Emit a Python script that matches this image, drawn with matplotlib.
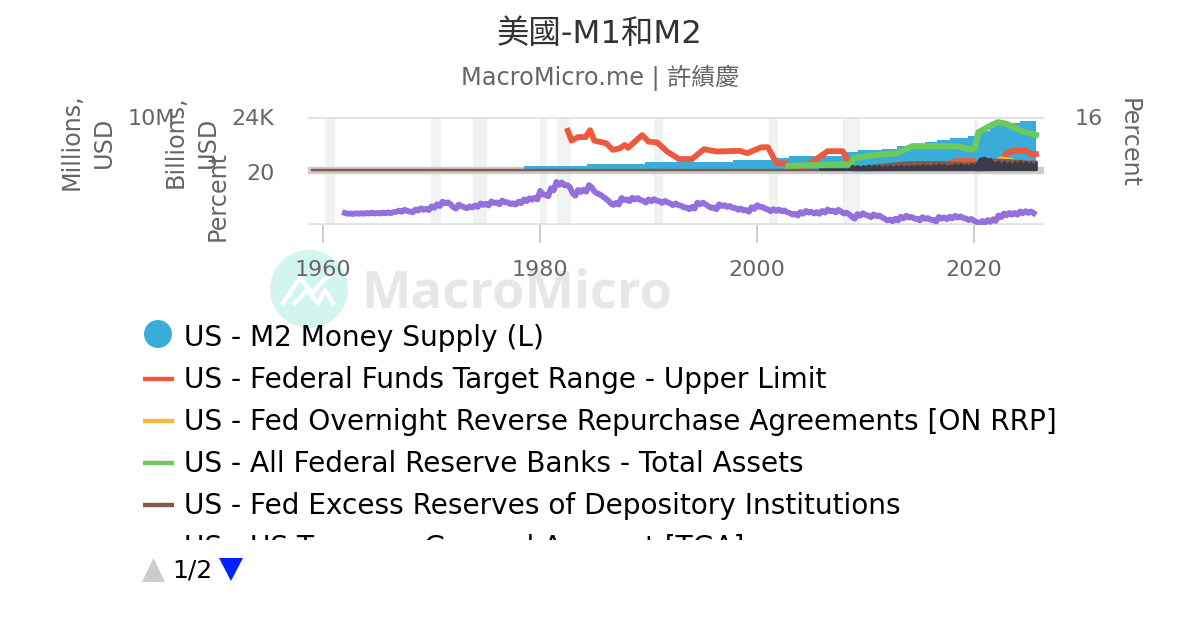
import matplotlib
matplotlib.use("Agg")
import matplotlib.pyplot as plt
import matplotlib.transforms as mtransforms
import numpy as np
from matplotlib.patches import Circle, Polygon, Rectangle

plt.rcParams["font.family"] = ["DejaVu Sans", "Noto Sans CJK TC"]

TITLE = "美國-M1和M2"
SUBTITLE = "MacroMicro.me | 許績慶"
LEGEND_LABELS = [
    "US - M2 Money Supply (L)",
    "US - Federal Funds Target Range - Upper Limit",
    "US - Fed Overnight Reverse Repurchase Agreements [ON RRP]",
    "US - All Federal Reserve Banks - Total Assets",
    "US - Fed Excess Reserves of Depository Institutions",
    "US - US Treasury General Account [TGA]",
]
X_TICKS = [1960, 1980, 2000, 2020]

# recession bands (start, end)
recessions = [(1960.2, 1961.1), (1969.9, 1970.9), (1973.8, 1975.1), (1980.0, 1980.6),
              (1981.6, 1982.8), (1990.5, 1991.3), (2001.1, 2001.9), (2007.9, 2009.5),
              (2020.0, 2020.4)]

# billions USD, stepped
m2_years = [1978.5, 1984.3, 1989.7, 1997.8, 2001.8, 2002.9, 2008.2, 2009.3, 2011.5, 2012.9,
            2014.3, 2015.5, 2016.6, 2017.8, 2019.4, 2020.4, 2021.5, 2022.7, 2024.2, 2025.7]
m2_values = [1500, 2400, 3400, 4500, 5400, 6300, 8000, 8900, 9600, 10900,
             11900, 12500, 13300, 14300, 15400, 17800, 21800, 21100, 22000, 22000]

# percent
ffr_years = [1982.55, 1982.9, 1983.5, 1984.2, 1984.6, 1985.0, 1986.1, 1986.7, 1987.3, 1987.8,
             1988.1, 1989.4, 1990.0, 1990.8, 1991.7, 1992.8, 1994.0, 1995.1, 1996.3, 1998.4,
             1999.1, 2000.4, 2001.0, 2001.8, 2002.7, 2003.0, 2004.4, 2004.9, 2006.5, 2007.9,
             2008.4, 2008.9, 2015.9, 2016.9, 2018.4, 2019.9, 2020.2, 2022.1, 2023.0, 2023.6,
             2024.8, 2025.3, 2025.7]
ffr_values = [11.8, 8.8, 9.9, 9.9, 12.0, 8.8, 8.0, 6.0, 6.4, 7.5,
              6.6, 10.5, 8.5, 8.25, 5.5, 3.2, 3.2, 6.2, 5.5, 5.7,
              5.0, 6.8, 6.8, 1.9, 1.9, 0.6, 0.8, 1.9, 5.6, 5.6,
              2.4, 0.3, 0.5, 1.0, 2.6, 2.6, 0.25, 0.5, 5.0, 5.7,
              5.7, 4.7, 4.7]

# millions USD
rrp_years = [2013.5, 2020.4, 2020.6, 2021.3, 2021.8, 2022.5, 2023.5, 2024.5, 2025.7]
rrp_values = [0.05, 0.05, 0.15, 0.2, 1.5, 2.1, 1.8, 0.4, 0.1]

assets_years = [2002.9, 2007.9, 2008.7, 2008.9, 2011.3, 2012.9, 2014.3, 2018.4, 2019.8, 2020.1,
                2020.4, 2021.3, 2022.2, 2023.0, 2024.5, 2025.7]
assets_values = [0.72, 1.0, 1.0, 2.15, 2.9, 3.1, 4.45, 4.45, 3.8, 4.2,
                 7.1, 8.1, 9.0, 8.7, 7.2, 6.6]

excess_years = [1958.9, 2008.5, 2009.0, 2011.0, 2013.0, 2014.0, 2017.0, 2019.0, 2020.0, 2020.5,
                2022.0, 2023.0, 2025.0, 2025.7]
excess_values = [0.03, 0.03, 0.5, 0.9, 1.3, 1.5, 1.5, 1.3, 1.3, 1.9,
                 2.0, 1.9, 1.6, 1.6]

# quarterly from 2005.75
tga_start = 2005.75
tga_values = [0.2, 0.15, 0.2, 0.15, 0.2, 0.15, 0.2, 0.15, 0.2, 0.2, 0.15, 0.25,
              0.9, 0.5, 0.8, 0.4, 0.8, 0.5, 0.9, 0.5, 0.8, 0.5, 0.8, 0.4, 0.7,
              0.5, 0.8, 0.4, 0.8, 0.5, 0.8, 0.5, 0.7, 0.5, 0.8, 0.6, 0.9,
              0.6, 1.0, 0.6, 0.9, 0.6, 1.0, 0.7, 1.1, 0.7, 1.0, 0.6, 0.9,
              0.7, 1.1, 0.7, 1.2, 0.7, 1.1, 0.6, 1.2, 0.8, 1.3, 2.2, 2.3,
              2.4, 2.0, 2.2, 1.4, 1.3, 1.7, 1.0, 1.6, 1.0, 1.5, 0.9, 1.6,
              1.1, 1.7, 1.0, 1.6, 1.0, 1.5, 0.8, 1.5]

# percent, quarterly from 1962
yield_start = 1962.0
yield_values = [4.2, 3.9, 4.0, 3.8, 4.1, 3.9, 4.1, 3.9, 4.2, 4.0, 4.3, 4.0, 4.2, 4.0, 4.3, 4.1,
                4.4, 4.1, 4.5, 4.6, 5.0, 4.6, 5.3, 4.9, 4.7, 4.4, 5.4, 5.0, 5.8, 5.3, 5.6, 5.2,
                6.5, 6.0, 7.2, 6.6, 8.1, 7.6, 7.9, 7.2, 6.2, 5.7, 7.1, 6.6, 6.2, 5.8, 6.5, 6.1,
                6.8, 6.3, 7.5, 7.0, 7.4, 6.8, 8.2, 7.7, 7.8, 7.2, 8.5, 7.9, 7.9, 7.3, 7.6, 7.1,
                8.1, 7.6, 8.9, 8.3, 9.3, 8.8, 9.5, 8.9, 11.9, 10.6, 10.6, 10.0,
                12.8, 12.0, 15.0, 14.0, 14.8, 13.8, 13.9, 13.1, 11.0, 10.2, 12.2, 11.5, 12.3, 11.6,
                13.9, 13.1, 11.7, 11.0, 10.7, 10.0, 9.3, 8.6, 7.6, 7.0, 7.7, 7.1, 9.4, 8.7, 8.9,
                8.3, 9.5, 8.9, 9.4, 8.7, 8.4, 7.8, 8.9, 8.3, 9.0, 8.4, 8.3, 7.7, 8.4, 7.9, 7.5,
                6.9, 7.5, 6.9, 6.7, 6.1, 6.1, 5.5, 6.3, 5.7, 7.8, 7.2, 7.8, 7.2, 6.6, 6.0, 6.1,
                5.5, 7.2, 6.6, 6.9, 6.3, 6.6, 6.0, 5.9, 5.3, 5.7, 5.1, 5.2, 4.6, 6.2, 5.6, 6.9,
                6.3, 6.3, 5.7, 5.4, 4.8, 5.5, 4.9, 5.4, 4.8, 5.1, 4.5, 4.2, 3.6, 3.9, 3.3, 4.5,
                3.9, 4.9, 4.3, 4.6, 4.0, 4.5, 3.9, 4.9, 4.3, 5.4, 4.8, 5.0, 4.4, 5.3, 4.7, 4.0,
                4.3, 3.7, 2.8, 2.2, 3.8, 3.2, 4.1, 3.5, 3.3, 2.7, 3.7, 3.1, 3.3, 2.7, 2.2,
                1.6, 1.9, 1.3, 2.2, 1.6, 2.9, 2.3, 3.2, 2.6, 2.8, 2.2, 2.2, 1.6, 2.7, 2.1, 2.4,
                1.8, 1.8, 1.2, 2.8, 2.2, 2.6, 2.0, 2.9, 2.3, 3.2, 2.6, 3.0, 2.4, 2.3, 1.7, 2.1,
                1.5, 1.0, 0.5, 1.4, 0.8, 1.7, 1.1, 2.0, 1.4, 3.3, 2.7, 4.0, 3.4, 4.2, 3.6, 4.2,
                3.6, 4.7, 4.1, 4.8, 4.2, 4.7, 4.1]

BLUE = "#39acda"
RED = "#ec5a3d"
ORANGE = "#f6b93b"
GREEN = "#6cc95b"
BROWN = "#85584a"
DARK = "#3a3a48"
PURPLE = "#9370db"
GREY_TEXT = "#666666"

W, H = 1200, 630
PLOT_L, PLOT_R, PLOT_T, PLOT_B, ZERO_Y = 308, 1044, 117, 225, 169.6


def pixel_ylim(top):
    """ylim that puts 0 at ZERO_Y and `top` at the plot's upper edge."""
    per_px = top / (ZERO_Y - PLOT_T)
    return -(PLOT_B - ZERO_Y) * per_px, top


fig = plt.figure(figsize=(W / 100, H / 100), dpi=100, facecolor="white")

# watermark goes under everything
back = fig.add_axes([0, 0, 1, 1], zorder=0)
back.set_xlim(0, W)
back.set_ylim(H, 0)
back.axis("off")
back.add_patch(Circle((309, 289), 39, color="#d2f6ef", lw=0))
back.plot([283, 300, 312, 325, 332], [303, 278, 293, 279, 274], color="white", lw=3.2)
back.plot([295, 307, 318, 325, 333], [303, 290, 303, 290, 303], color="white", lw=3.2)
back.text(361, 308, "MacroMicro", family="Open Sans", weight="bold", fontsize=37.7,
          color="#e6e7e8", ha="left", va="baseline")

rect = [PLOT_L / W, 1 - PLOT_B / H, (PLOT_R - PLOT_L) / W, (PLOT_B - PLOT_T) / H]
ax_b = fig.add_axes(rect, zorder=1)
ax_b.patch.set_alpha(0)
ax_p = ax_b.twinx()
ax_m = ax_b.twinx()
ax_y = ax_b.twinx()

ax_b.set_xlim(1958.6, 2026.45)
ax_b.set_ylim(*pixel_ylim(24000))
ax_p.set_ylim(*pixel_ylim(16))
ax_m.set_ylim(*pixel_ylim(10))
ax_y.set_ylim(0, 37.6)

for ax in (ax_b, ax_p, ax_m, ax_y):
    for side in ax.spines:
        ax.spines[side].set_visible(False)
    ax.patch.set_visible(False)

for start, end in recessions:
    ax_b.axvspan(start, end, color="#f1f3f3", lw=0, zorder=0)
for y in (ax_b.get_ylim()[0], ax_b.get_ylim()[1]):
    ax_b.axhline(y, color="#e0e0e0", lw=2.6, zorder=1)
ax_b.axhline(0, color="#cccccc", lw=5.3, zorder=1)

ax_b.fill_between(m2_years, m2_values, 0, step="post", color=BLUE, lw=0, zorder=2)
ax_p.plot(ffr_years, ffr_values, color=RED, lw=4.2, solid_joinstyle="round")
ax_m.plot(rrp_years, rrp_values, color=ORANGE, lw=3)
ax_m.plot(assets_years, assets_values, color=GREEN, lw=4.4, zorder=3)
ax_m.fill_between(excess_years, excess_values, 0, color=BROWN, lw=1.6, zorder=2)
tga_years = tga_start + 0.25 * np.arange(len(tga_values))
ax_m.fill_between(tga_years, tga_values, 0, color=DARK, lw=1.2, zorder=4)
yield_years = yield_start + 0.25 * np.arange(len(yield_values))
ax_y.plot(yield_years, yield_values, color=PURPLE, lw=4.2, solid_joinstyle="round")

ax_b.set_xticks(X_TICKS)
ax_b.set_xticklabels([str(t) for t in X_TICKS])
ax_b.tick_params(axis="x", length=13, width=1.4, color="#cccccc", pad=12.5, labelsize=16,
                 labelcolor=GREY_TEXT)
ax_b.set_yticks([20, 24000])
ax_b.set_yticklabels(["20", "24K"])
ax_b.tick_params(axis="y", length=0, pad=24, labelsize=16, labelcolor=GREY_TEXT)
# the "20" label sits a touch under its gridline
low_label = ax_b.yaxis.get_major_ticks()[0].label1
low_label.set_transform(low_label.get_transform()
                        + mtransforms.ScaledTranslation(0, -2 / 72, fig.dpi_scale_trans))
ax_m.yaxis.tick_left()
ax_m.set_yticks([10])
ax_m.set_yticklabels(["10M"])
ax_m.tick_params(axis="y", length=0, pad=96, labelsize=16, labelcolor=GREY_TEXT)
ax_p.set_yticks([16])
ax_p.set_yticklabels(["16"])
ax_p.tick_params(axis="y", length=0, pad=22, labelsize=16, labelcolor=GREY_TEXT)
ax_y.set_yticks([])

# legend, titles and axis names in pixel coordinates
front = fig.add_axes([0, 0, 1, 1], zorder=5)
front.set_xlim(0, W)
front.set_ylim(H, 0)
front.axis("off")
front.text(600, 34, TITLE, fontsize=23.3, color="#333333", ha="center", va="center")
front.text(600, 78, SUBTITLE, fontsize=17.3, color=GREY_TEXT, ha="center", va="center")

for x, y, label, rot in [(88, 142, "Millions,\nUSD", 90), (192, 142, "Billions,\nUSD", 90),
                         (218, 196, "Percent", 90), (1129, 143, "Percent", 270)]:
    front.text(x, y, label, fontsize=17.2, color=GREY_TEXT, rotation=rot, ha="center", va="center",
               multialignment="center", linespacing=1.45)

front.add_patch(Circle((158, 334), 14, color=BLUE, lw=0))
for y, color in zip([379, 421, 463, 505], [RED, ORANGE, GREEN, BROWN]):
    front.plot([143, 174], [y, y], color=color, lw=3.2, solid_capstyle="butt")
clip = Rectangle((0, 0), W, 540, transform=front.transData)
for y, label in zip([338, 380, 422, 464, 506, 548], LEGEND_LABELS):
    t = front.text(184, y, label, fontsize=20.16, color="black", ha="left", va="center")
    t.set_clip_path(clip)
    t.set_clip_on(True)

front.add_patch(Polygon([(142, 582), (165, 582), (153.5, 558)], color="#cccccc", lw=0))
front.add_patch(Polygon([(219, 558), (243, 558), (231, 581)], color="#0022ff", lw=0))
front.text(172, 570, "1/2", fontsize=18, color="black", ha="left", va="center")

fig.savefig("out.png", dpi=100)
